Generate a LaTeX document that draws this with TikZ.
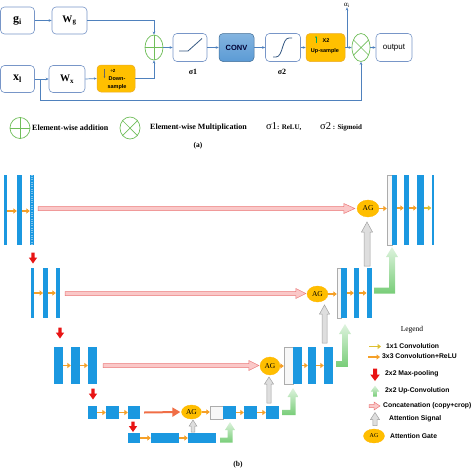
\documentclass[tikz,border=0pt]{standalone}
\usepackage{fontspec}
\setmainfont{Liberation Serif}
\newfontfamily\arialf{Liberation Sans}
\usetikzlibrary{arrows.meta,calc,shapes.geometric}
\definecolor{lblue}{RGB}{79,129,189}
\definecolor{bborder}{RGB}{120,150,200}
\definecolor{gold}{RGB}{255,192,0}
\definecolor{goldb}{RGB}{235,170,40}
\definecolor{convblue}{RGB}{91,155,213}
\definecolor{cgreen}{RGB}{112,190,90}
\definecolor{barblue}{RGB}{27,152,224}
\definecolor{orng}{RGB}{245,160,40}
\definecolor{yelw}{RGB}{222,192,50}
\definecolor{pinkf}{RGB}{250,200,200}
\definecolor{pinkd}{RGB}{235,120,120}
\definecolor{grayf}{RGB}{222,222,222}
\definecolor{grayd}{RGB}{160,160,160}
\definecolor{greenf}{RGB}{120,205,120}
\definecolor{redA}{RGB}{232,20,20}
\definecolor{salmon}{RGB}{240,110,70}
\definecolor{agfill}{RGB}{255,190,0}
% block arrows: style, from, to, shaft half, head half, head length
\newcommand\rblk[6]{\path[#1] let \p1=(#2), \p2=(#3) in
  (\x1,{\y1+#4}) -- ({\x2-#6},{\y1+#4}) -- ({\x2-#6},{\y1+#5}) -- (\x2,\y1) --
  ({\x2-#6},{\y1-#5}) -- ({\x2-#6},{\y1-#4}) -- (\x1,{\y1-#4}) -- cycle;}
\newcommand\ublk[6]{\path[#1] let \p1=(#2), \p2=(#3) in
  ({\x1-#4},\y1) -- ({\x1-#4},{\y2-#6}) -- ({\x1-#5},{\y2-#6}) -- (\x1,\y2) --
  ({\x1+#5},{\y2-#6}) -- ({\x1+#4},{\y2-#6}) -- ({\x1+#4},\y1) -- cycle;}
\newcommand\dblk[6]{\path[#1] let \p1=(#2), \p2=(#3) in
  ({\x1-#4},\y1) -- ({\x1-#4},{\y2+#6}) -- ({\x1-#5},{\y2+#6}) -- (\x1,\y2) --
  ({\x1+#5},{\y2+#6}) -- ({\x1+#4},{\y2+#6}) -- ({\x1+#4},\y1) -- cycle;}
\newcommand\lblk[6]{\path[#1] let \p1=(#2), \p2=(#3) in
  (\x1,{\y1+#4}) -- ({\x2-#4},{\y1+#4}) -- ({\x2-#4},{\y2-#6}) -- ({\x2-#5},{\y2-#6}) --
  (\x2,\y2) -- ({\x2+#5},{\y2-#6}) -- ({\x2+#4},{\y2-#6}) -- ({\x2+#4},{\y1-#4}) --
  (\x1,{\y1-#4}) -- cycle;}
\tikzset{
 abox/.style={draw=bborder,line width=0.6pt,rounded corners=4pt,fill=white,inner sep=0pt,minimum height=27pt},
 obox/.style={draw=goldb,line width=0.5pt,rounded corners=4pt,fill=gold,inner sep=0pt,minimum height=27pt},
 opnode/.style={ellipse,draw=cgreen,line width=0.7pt,fill=white,inner sep=0pt},
 opline/.style={draw=cgreen,line width=0.7pt},
 conn/.style={draw=lblue,line width=0.7pt,-{Stealth[length=3pt,width=2.6pt]}},
 bar/.style={fill=barblue,inner sep=0pt,draw=none},
 wbar/.style={fill=gray!6,draw=gray!65,line width=0.4pt,inner sep=0pt},
 agnode/.style={ellipse,fill=agfill,draw=agfill!85!orange,line width=0.3pt,inner sep=0pt,font=\fontsize{7.5}{7.5}\selectfont},
 oarr/.style={draw=orng,line width=1.4pt,-{Triangle[length=3.4pt,width=5pt]}},
 yarr/.style={draw=yelw,line width=1.4pt,-{Triangle[length=3.4pt,width=5pt]}},
 pinkarr/.style={fill=pinkf,draw=pinkd,line width=0.5pt},
 grayarr/.style={fill=grayf,draw=grayd,line width=0.5pt},
 redarr/.style={fill=redA,draw=none},
 grnarr/.style={top color=greenf!25,bottom color=greenf,draw=none},
 lgtext/.style={anchor=west,font=\arialf\bfseries\fontsize{6.8}{7}\selectfont,inner sep=0pt},
 atext/.style={anchor=west,font=\bfseries\fontsize{8}{8}\selectfont,inner sep=0pt},
}
\begin{document}
\begin{tikzpicture}[x=1pt,y=-1pt]
\useasboundingbox (0,0) rectangle (474,475);
% ================= (a) =================
\node[abox,minimum width=34pt] (gi) at (17.5,20.5) {\fontsize{12}{12}\selectfont\textbf{g\textsubscript{i}}};
\node[abox,minimum width=35pt] (Wg) at (69.5,20.5) {\fontsize{10}{10}\selectfont\textbf{W\textsubscript{g}}};
\node[abox,minimum width=34pt] (xl) at (17.5,79) {\fontsize{12}{12}\selectfont\textbf{x\textsubscript{l}}};
\node[abox,minimum width=36pt] (Wx) at (67,79) {\fontsize{10}{10}\selectfont\textbf{W\textsubscript{x}}};
\node[obox,minimum width=38pt] (ds) at (116,78.5) {};
\node[font=\arialf\bfseries\fontsize{4.5}{4.5}\selectfont,inner sep=0pt] (dsa) at (113,71) {÷2};
\node[font=\arialf\bfseries\fontsize{5.5}{5.5}\selectfont,inner sep=0pt] (dsb) at (117,79) {Down-};
\node[font=\arialf\bfseries\fontsize{5.5}{5.5}\selectfont,inner sep=0pt] (dsc) at (117,87) {sample};
\draw[draw=black!60,line width=0.4pt,-{Stealth[length=1.5pt,width=1.5pt]}] (104.5,69) -- (104.5,78);
\node[opnode,minimum width=18pt,minimum height=25pt] (plus) at (154,47.5) {};
\draw[opline] (plus.north) -- (plus.south) (plus.west) -- (plus.east);
\node[abox,minimum width=34pt,minimum height=28pt] (s1) at (190,47.5) {};
\draw[draw=lblue!70!black,line width=0.8pt] (179,51) -- (188,51) -- (202,38.5);
\node[draw=convblue!70!black,line width=0.5pt,rounded corners=4pt,top color=convblue!75!white,bottom color=convblue,inner sep=0pt,minimum width=35pt,minimum height=28pt,font=\arialf\bfseries\fontsize{7.5}{7.5}\selectfont,text=black!80!blue] (conv) at (236.5,47.5) {CONV};
\node[abox,minimum width=35pt,minimum height=28pt] (s2) at (283,47.5) {};
\draw[draw=lblue!70!black,line width=0.8pt] (273,57) -- (276,57) .. controls (283,57) and (282,38) .. (289,38) -- (292,38);
\node[obox,minimum width=39pt,minimum height=28pt] (up) at (325.5,47.5) {};
\draw[draw=teal!70!green,line width=0.5pt,-{Stealth[length=1.8pt,width=1.8pt]}] (316,43) -- (316,36);
\node[font=\arialf\bfseries\fontsize{5.5}{5.5}\selectfont,inner sep=0pt] (upa) at (326,40.5) {X2};
\node[font=\arialf\bfseries\fontsize{5.5}{5.5}\selectfont,inner sep=0pt] (upb) at (325,51.5) {Up-sample};
\node[opnode,minimum width=18pt,minimum height=28pt] (times) at (361,47.5) {};
\draw[opline] (times.45) -- (times.225) (times.135) -- (times.315);
\node[abox,minimum width=36pt,minimum height=28pt,font=\arialf\fontsize{8}{8}\selectfont] (out) at (394,47.5) {output};
\node[inner sep=0pt,font=\fontsize{7}{7}\selectfont] (alpha) at (347,5) {α\textsubscript{i}};
\node[inner sep=0pt,font=\bfseries\fontsize{8}{8}\selectfont] (s1l) at (193,72) {σ1};
\node[inner sep=0pt,font=\bfseries\fontsize{8}{8}\selectfont] (s2l) at (282,72) {σ2};
% connectors (a)
\draw[conn] (gi.east) -- (Wg.west);
\draw[conn] (Wg.east) -| (plus.north);
\draw[conn] (xl.east) -- (Wx.west);
\draw[conn] (Wx.east) -- (ds.west);
\draw[conn] (ds.east) -| (plus.south);
\draw[conn] (plus.east) -- (s1.west);
\draw[conn] (s1.east) -- (conv.west);
\draw[conn] (conv.east) -- (s2.west);
\draw[conn] (s2.east) -- (up.west);
\draw[conn] (up.east) -- (times.west);
\draw[conn] (times.east) -- (out.west);
\coordinate (abr) at (347,47.5);
\draw[conn] (abr) -- (alpha.south);
\coordinate (xb) at (40,79);
\coordinate (xc) at (361,100);
\draw[conn] (xb) |- (xc) -- (times.south);
% legend (a)
\node[opnode,minimum width=20pt,minimum height=21pt] (lplus) at (20,128) {};
\draw[opline] (lplus.north) -- (lplus.south) (lplus.west) -- (lplus.east);
\node[atext] (lpt) at (32,127.5) {Element-wise addition};
\node[opnode,minimum width=20pt,minimum height=22pt] (ltimes) at (130,128) {};
\draw[opline] (ltimes.45) -- (ltimes.225) (ltimes.135) -- (ltimes.315);
\node[atext] (ltt) at (150,127.5) {Element-wise Multiplication};
\node[anchor=west,inner sep=0pt] (ls1) at (266,127) {{\fontsize{10.5}{10.5}\selectfont σ1}{\bfseries\fontsize{7}{7}\selectfont: ReLU,}};
\node[anchor=west,inner sep=0pt] (ls2) at (320,127) {{\fontsize{10.5}{10.5}\selectfont σ2}{\bfseries\fontsize{7}{7}\selectfont\ : Sigmoid}};
\node[inner sep=0pt,font=\bfseries\fontsize{7.5}{7.5}\selectfont] (capa) at (198,146) {(a)};
% ================= (b) =================
% level 1
\node[bar,minimum width=3.5pt,minimum height=70pt] (L1a) at (5.5,210) {};
\node[bar,minimum width=5pt,minimum height=70pt] (L1b) at (19.5,210) {};
\node[bar,minimum width=4pt,minimum height=70pt] (L1c) at (32,210) {};
\draw[draw=barblue!55!white,line width=1.2pt,dash pattern=on 1pt off 1.3pt] (L1c.north) -- (L1c.south);
\node[wbar,minimum width=5pt,minimum height=70pt] (R1w) at (389.5,210) {};
\node[bar,minimum width=5pt,minimum height=70pt] (R1a) at (394.5,210) {};
\node[bar,minimum width=5pt,minimum height=70pt] (R1b) at (406.5,210) {};
\node[bar,minimum width=7pt,minimum height=70pt] (R1c) at (420.5,210) {};
\node[bar,minimum width=2pt,minimum height=70pt] (R1d) at (432.5,210) {};
% level 2
\node[bar,minimum width=3.5pt,minimum height=50pt] (L2a) at (32.5,293) {};
\node[bar,minimum width=4.5pt,minimum height=50pt] (L2b) at (45.5,293) {};
\node[bar,minimum width=4pt,minimum height=50pt] (L2c) at (58,293) {};
\node[wbar,minimum width=4pt,minimum height=50pt] (R2w) at (339,293) {};
\node[bar,minimum width=6pt,minimum height=50pt] (R2a) at (344,293) {};
\node[bar,minimum width=4.5pt,minimum height=50pt] (R2b) at (356.3,293) {};
\node[bar,minimum width=5pt,minimum height=50pt] (R2c) at (369.2,293) {};
% level 3
\node[bar,minimum width=9pt,minimum height=37pt] (L3a) at (58.5,365.5) {};
\node[bar,minimum width=9pt,minimum height=37pt] (L3b) at (75.5,365.5) {};
\node[bar,minimum width=9pt,minimum height=37pt] (L3c) at (92.5,365.5) {};
\node[wbar,minimum width=9pt,minimum height=37pt] (R3w) at (288.5,365.5) {};
\node[bar,minimum width=9pt,minimum height=37pt] (R3a) at (297.5,365.5) {};
\node[bar,minimum width=8pt,minimum height=37pt] (R3b) at (312,365.5) {};
\node[bar,minimum width=9pt,minimum height=37pt] (R3c) at (328.5,365.5) {};
% level 4
\node[bar,minimum width=9pt,minimum height=13pt] (L4a) at (92.5,412.5) {};
\node[bar,minimum width=13pt,minimum height=13pt] (L4b) at (112.5,412.5) {};
\node[bar,minimum width=12pt,minimum height=13pt] (L4c) at (134,412.5) {};
\node[wbar,minimum width=13pt,minimum height=13pt] (R4w) at (216.5,412.5) {};
\node[bar,minimum width=13pt,minimum height=13pt] (R4a) at (229.5,412.5) {};
\node[bar,minimum width=13pt,minimum height=13pt] (R4b) at (250.5,412.5) {};
\node[bar,minimum width=13pt,minimum height=13pt] (R4c) at (272.5,412.5) {};
% level 5
\node[bar,minimum width=12pt,minimum height=10pt] (B5a) at (134,438) {};
\node[bar,minimum width=28pt,minimum height=10pt] (B5b) at (165,438) {};
\node[bar,minimum width=28pt,minimum height=10pt] (B5c) at (202,438) {};
% attention gates
\node[agnode,minimum width=22pt,minimum height=17pt] (AG1) at (368,208.5) {AG};
\node[agnode,minimum width=21pt,minimum height=16pt] (AG2) at (317.5,294) {AG};
\node[agnode,minimum width=20pt,minimum height=18pt] (AG3) at (270,366) {AG};
\node[agnode,minimum width=20pt,minimum height=14pt] (AG4) at (191.5,412) {AG};
% orange conv arrows
\draw[oarr] ([yshift=-1pt]L1a.east) -- ([yshift=-1pt]L1b.west);
\draw[oarr] ([yshift=-1pt]L1b.east) -- ([yshift=-1pt]L1c.west);
\draw[oarr] (AG1.east) -- (AG1.east -| R1w.west);
\draw[oarr] ([yshift=2pt]R1a.east) -- ([yshift=2pt]R1b.west);
\draw[oarr] ([yshift=2pt]R1b.east) -- ([yshift=2pt]R1c.west);
\draw[yarr] ([yshift=2pt]R1c.east) -- ([yshift=2pt]R1d.west);
\draw[oarr] (L2a.east) -- (L2b.west);
\draw[oarr] (L2b.east) -- (L2c.west);
\draw[oarr] (AG2.east) -- (AG2.east -| R2w.west);
\draw[oarr] (R2a.east) -- (R2b.west);
\draw[oarr] (R2b.east) -- (R2c.west);
\draw[oarr] (L3a.east) -- (L3b.west);
\draw[oarr] (L3b.east) -- (L3c.west);
\draw[oarr] (AG3.east) -- (AG3.east -| R3w.west);
\draw[oarr] (R3a.east) -- (R3b.west);
\draw[oarr] (R3b.east) -- (R3c.west);
\draw[oarr] (L4a.east) -- (L4b.west);
\draw[oarr] (L4b.east) -- (L4c.west);
\draw[oarr] (AG4.east) -- (AG4.east -| R4w.west);
\draw[oarr] (R4a.east) -- (R4b.west);
\draw[oarr] (R4b.east) -- (R4c.west);
\draw[oarr] (B5a.east) -- (B5b.west);
\draw[oarr] (B5b.east) -- (B5c.west);
\draw[draw=salmon,line width=2pt,-{Triangle[length=8pt,width=9pt]}] ([xshift=4pt]L4c.east) -- ([xshift=-1pt]AG4.west);
% concatenation arrows
\coordinate (c1) at (38,208.5);
\coordinate (c2) at (65,293.5);
\coordinate (c3) at (103,365.5);
\rblk{pinkarr}{c1}{[xshift=-2pt]AG1.west}{2pt}{5pt}{11pt}
\rblk{pinkarr}{c2}{[xshift=-1pt]AG2.west}{2pt}{5pt}{10pt}
\rblk{pinkarr}{c3}{[xshift=-1pt]AG3.west}{2pt}{5pt}{10pt}
% max-pooling arrows
\coordinate (d1s) at (33,252.5); \coordinate (d1e) at (33,263.5);
\coordinate (d2s) at (60,327.5); \coordinate (d2e) at (60,338.5);
\coordinate (d3s) at (93,388.5); \coordinate (d3e) at (93,399.5);
\coordinate (d4s) at (133,421.5); \coordinate (d4e) at (133,432);
\dblk{redarr}{d1s}{d1e}{1.6pt}{4.2pt}{6pt}
\dblk{redarr}{d2s}{d2e}{1.6pt}{4.2pt}{6pt}
\dblk{redarr}{d3s}{d3e}{1.6pt}{4.2pt}{6pt}
\dblk{redarr}{d4s}{d4e}{1.6pt}{4.2pt}{6pt}
% attention signal arrows
\coordinate (g1s) at (367,266); \coordinate (g1e) at (367,222);
\coordinate (g2s) at (324.5,343); \coordinate (g2e) at (324.5,305);
\coordinate (g3s) at (269,403); \coordinate (g3e) at (269,377);
\coordinate (g4s) at (193,432); \coordinate (g4e) at (193,420);
\ublk{grayarr}{g1s}{g1e}{3pt}{5.5pt}{10pt}
\ublk{grayarr}{g2s}{g2e}{2.5pt}{5pt}{9pt}
\ublk{grayarr}{g3s}{g3e}{2.2pt}{4.5pt}{7pt}
\ublk{grayarr}{g4s}{g4e}{1.8pt}{3.8pt}{6pt}
% up-convolution arrows
\coordinate (e1s) at (374,290.5); \coordinate (e1e) at (392,247);
\coordinate (e2s) at (336,364); \coordinate (e2e) at (345,324);
\coordinate (e3s) at (282,412.5); \coordinate (e3e) at (293,388);
\coordinate (e4s) at (220,440); \coordinate (e4e) at (230,422);
\lblk{grnarr}{e1s}{e1e}{3pt}{6pt}{10pt}
\lblk{grnarr}{e2s}{e2e}{2.8pt}{6pt}{10pt}
\lblk{grnarr}{e3s}{e3e}{2.6pt}{5.5pt}{9pt}
\lblk{grnarr}{e4s}{e4e}{2.5pt}{5pt}{8pt}
% legend (b)
\node[inner sep=0pt,font=\fontsize{7.5}{7.5}\selectfont] (lgh) at (412,330) {Legend};
\coordinate (ly1) at (369,346.5); \coordinate (ly2) at (381,346.5);
\draw[yarr] (ly1) -- (ly2);
\node[lgtext] (lt1) at (386,346) {1x1 Convolution};
\coordinate (lo1) at (368,357); \coordinate (lo2) at (380,357);
\draw[oarr] (lo1) -- (lo2);
\node[lgtext] (lt2) at (382,356.5) {3x3 Convolution+ReLU};
\coordinate (lr1) at (375,368.5); \coordinate (lr2) at (375,381);
\dblk{redarr}{lr1}{lr2}{2pt}{4.8pt}{6.5pt}
\node[lgtext] (lt3) at (385,374) {2x2 Max-pooling};
\coordinate (lg1) at (375,396.5); \coordinate (lg2) at (375,385.5);
\ublk{grnarr}{lg1}{lg2}{1.8pt}{4.2pt}{6pt}
\node[lgtext] (lt4) at (385,390.5) {2x2 Up-Convolution};
\coordinate (lp1) at (369,406); \coordinate (lp2) at (380,406);
\rblk{pinkarr}{lp1}{lp2}{1.5pt}{4pt}{6pt}
\node[lgtext] (lt5) at (383,405.5) {Concatenation (copy+crop)};
\coordinate (la1) at (375,425.5); \coordinate (la2) at (375,412.5);
\ublk{grayarr}{la1}{la2}{2.2pt}{4.5pt}{7pt}
\node[lgtext] (lt6) at (389,419) {Attention Signal};
\node[agnode,minimum width=21pt,minimum height=14pt,font=\fontsize{6}{6}\selectfont] (lag) at (374,436) {AG};
\node[lgtext] (lt7) at (390,436) {Attention Gate};
\node[inner sep=0pt,font=\bfseries\fontsize{7.5}{7.5}\selectfont] (capb) at (238,465) {(b)};
\end{tikzpicture}
\end{document}
